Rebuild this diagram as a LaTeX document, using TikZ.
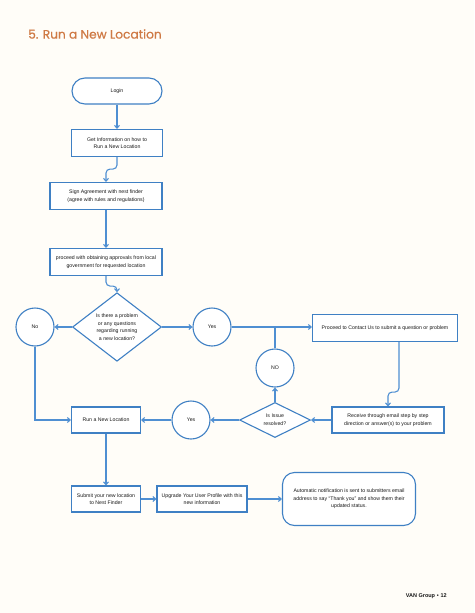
\documentclass[tikz,border=0pt]{standalone}
\usepackage{fontspec}
\setmainfont{Liberation Sans}
\newfontfamily\titlefont[FakeBold=0.6]{Poppins}
\usepackage{xcolor}
\usetikzlibrary{arrows.meta, positioning, shapes.geometric}

\definecolor{pagebg}{HTML}{FFFDF8}
\definecolor{flowblue}{HTML}{4F8FD2}
\definecolor{edgeblue}{HTML}{3F80C4}
\definecolor{titleorange}{HTML}{CF7A45}

\begin{document}
\begin{tikzpicture}[
    x=1pt, y=-1pt,
    every node/.style={font=\fontsize{5.2}{7.6}\selectfont, text=black!90},
    stepbox/.style={draw=edgeblue, line width=1.1pt, fill=white, align=center, inner sep=1pt},
    pill/.style={stepbox, rounded corners=13pt},
    answer/.style={circle, draw=edgeblue, line width=1.1pt, fill=white, minimum size=38pt, inner sep=0pt},
    query/.style={diamond, draw=edgeblue, line width=1.1pt, fill=white, align=center, inner sep=0pt},
    flow/.style={draw=flowblue, line width=1.1pt, -{Straight Barb[length=2.8pt,width=5pt]}},
    link/.style={draw=flowblue, line width=1.1pt}
]
% page
\fill[pagebg] (0,0) rectangle (474,613);
\useasboundingbox (0,0) rectangle (474,613);
\node[font=\titlefont\fontsize{12.2}{14}\selectfont, text=titleorange, anchor=west, inner sep=0pt] (title) at (28,34) {5. Run a New Location};

% main column
\node[pill, minimum width=90pt, minimum height=26pt] (login) at (117,91) {Login};
\node[stepbox, minimum width=91pt, minimum height=27pt] (getinfo) at (117,143) {Get Information on how to\\Run a New Location};
\node[stepbox, minimum width=112pt, minimum height=27pt] (agree) at (106,196) {Sign Agreement with nest finder\\(agree with rules and regulations)};
\node[stepbox, minimum width=112pt, minimum height=27pt] (approve) at (106,262) {proceed with obtaining approvals from local\\government for requested location};
\node[query, minimum width=89pt, minimum height=62pt] (question) at (117,327) {Is there a problem\\or any questions\\regarding running\\a new location?};
\node[answer] (no) at (35,327) {No};
\node[answer] (yes) at (212,327) {Yes};

% support loop
\node[stepbox, minimum width=145pt, minimum height=27pt] (contact) at (385,328) {Proceed to Contact Us to submit a question or problem};
\node[answer] (nores) at (275,368) {NO};
\node[stepbox, minimum width=112pt, minimum height=26pt] (receive) at (388,420) {Receive through email step by step\\direction or answer(s) to your problem};
\node[query, minimum width=71pt, minimum height=35pt] (resolved) at (275,420) {Is Issue\\resolved?};
\node[answer] (yesres) at (191,420) {Yes};
\node[stepbox, minimum width=69pt, minimum height=26pt] (runloc) at (106,420) {Run a New Location};

% bottom row
\node[stepbox, minimum width=69pt, minimum height=26pt] (submit) at (106,499) {Submit your new location\\to Nest Finder};
\node[stepbox, minimum width=90pt, minimum height=26pt] (upgrade) at (202,499) {Upgrade Your User Profile with this\\new information};
\node[stepbox, rounded corners=12pt, minimum width=133pt, minimum height=53pt] (notify) at (349,499) {Automatic notification is sent to submitters email\\address to say ``Thank you'' and show them their\\updated status.};

% footer
\node[font=\bfseries\fontsize{5.5}{6}\selectfont, anchor=east, inner sep=0pt] (footer) at (447,596) {VAN Group\,\,•\,\,12};

% connectors
\draw[flow] (login) -- (getinfo);
\draw[flow, rounded corners=4pt] (getinfo.south) -- ++(0,12) -| (agree.north);
\draw[flow] (agree) -- (approve);
\draw[flow, rounded corners=4pt] (approve.south) -- ++(0,10) -| (question.north);
\draw[flow] (question.west) -- (no.east);
\draw[flow] (question.east) -- (yes.west);
\draw[flow] (yes.east) -- (yes.east -| contact.west);
\draw[link] (nores.north) -- (nores.north |- yes.east);
\draw[flow, rounded corners=4pt] ([xshift=14pt]contact.south) -- ++(0,50) -| (receive.north);
\draw[flow] (receive.west) -- (resolved.east);
\draw[flow] (resolved.north) -- (nores.south);
\draw[flow] (resolved.west) -- (yesres.east);
\draw[flow] (yesres.west) -- (runloc.east);
\draw[flow] (no.south) |- (runloc.west);
\draw[flow] (runloc) -- (submit);
\draw[flow] (submit) -- (upgrade);
\draw[flow] (upgrade) -- (notify);
\end{tikzpicture}
\end{document}
